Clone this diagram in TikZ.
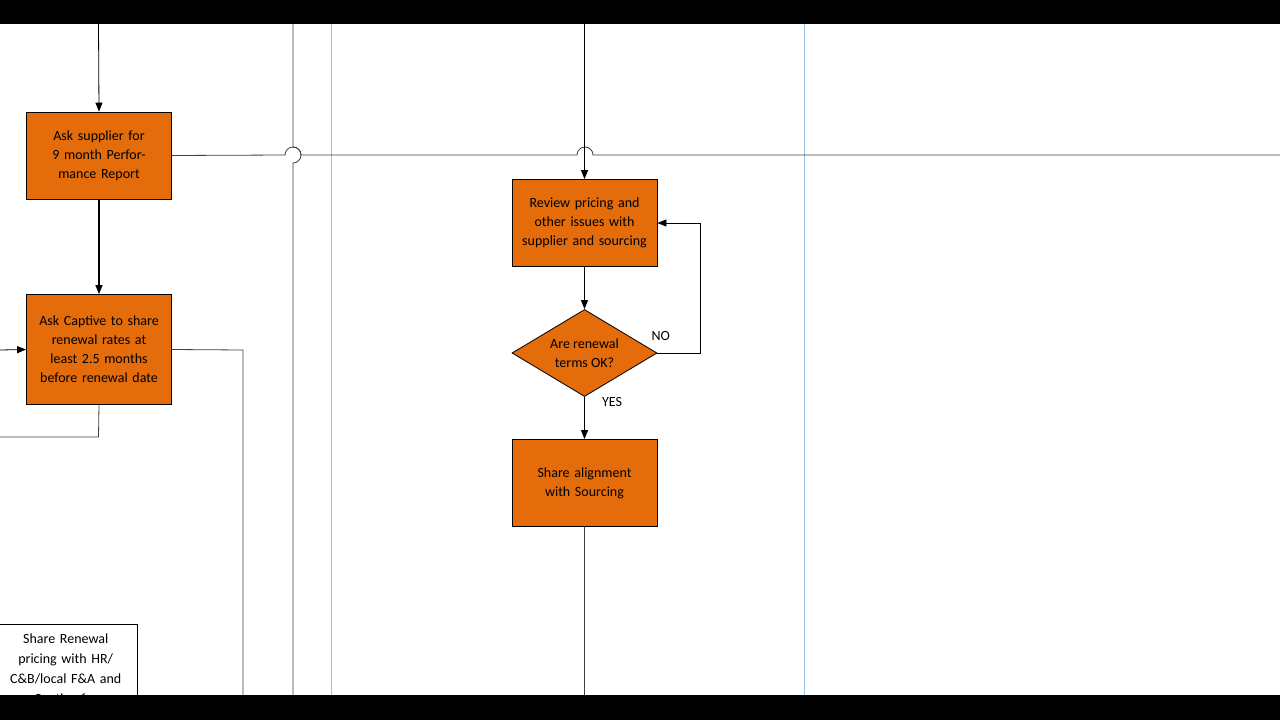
\documentclass[tikz,border=0pt]{standalone}
\usepackage{fontspec}
\setmainfont{Carlito}
\usetikzlibrary{shapes.geometric,arrows.meta}
\definecolor{orng}{HTML}{E46C0A}
\definecolor{lblue}{HTML}{9DC3E6}
\begin{document}
\begin{tikzpicture}[x=1pt,y=-1pt,
 box/.style={draw=black,thick,fill=orng,minimum width=145pt,minimum height=87pt,align=center,text width=135pt,font=\fontsize{14}{19}\selectfont,inner sep=2pt},
 dia/.style={diamond,draw=black,thick,fill=orng,minimum width=145pt,minimum height=87pt,aspect=1.67,align=center,font=\fontsize{14}{19}\selectfont,inner sep=0pt},
 arr/.style={-{Triangle[length=9pt,width=7pt]},black},
 ln/.style={draw=black!75,line width=0.8pt},
 lbl/.style={font=\fontsize{14}{16}\selectfont}]
\useasboundingbox (0,0) rectangle (1280,720);
\fill[white] (0,0) rectangle (1280,720);
% lanes
\draw[ln] (293,24) -- (293,147) arc[start angle=90,end angle=-90,radius=8pt] -- (293,695);
\draw[lblue,line width=1pt] (331,24) -- (331,695);
\draw[lblue,line width=1pt] (804,24) -- (804,695);
% nodes
\node[box] (b1) at (99,155.5) {Ask supplier for 9 month Performance Report};
\node[box,minimum height=110pt] (b2) at (99,349.5) {Ask Captive to share renewal rates at least 2.5 months before renewal date};
\node[box] (b3) at (584.5,223) {Review pricing and other issues with supplier and sourcing};
\node[dia] (d) at (584.5,353) {Are renewal\\terms OK?};
\node[box] (b4) at (584.5,483) {Share alignment with Sourcing};
\node[draw=black,thick,fill=white,minimum width=140pt,minimum height=90pt,anchor=north west,align=center,font=\fontsize{14}{20}\selectfont,text width=136pt] (w) at (-6,624) {Share Renewal\\pricing with HR/\\C\&B/local F\&A and\\Captive for\\};
% connectors
\coordinate (t1) at (98.5,24);
\draw[ln,arr] (t1) -- (b1.north);
\draw[line width=1.4pt,arr] (b1.south) -- (b2.north);
\coordinate (l2) at (0,350);
\draw[ln,arr] (l2) -- (b2.west);
\coordinate (l3) at (0,437);
\draw[ln] (b2.south) -- (98.5,437) -- (l3);
\coordinate (r2) at (243,695);
\draw[ln] (b2.east) -- (243,350) -- (r2);
\coordinate (e) at (1280,155);
\draw[ln] (b1.east) -- (285,155) arc[start angle=180,end angle=0,radius=8pt] -- (577,155) arc[start angle=180,end angle=0,radius=8pt] -- (e);
\coordinate (t3) at (584.5,24);
\draw[ln,arr] (t3) -- (b3.north);
\draw[ln,arr] (b3.south) -- (d.north);
\draw[ln,arr] (d.east) -- (700,353) -- (700,223) -- (b3.east);
\node[lbl,anchor=west] at (648,336) {NO};
\draw[ln,arr] (d.south) -- (b4.north);
\node[lbl] at (612,402) {YES};
\coordinate (bb) at (584.5,695);
\draw[ln] (b4.south) -- (bb);
% black bars
\fill[black] (0,0) rectangle (1280,24);
\fill[black] (0,695) rectangle (1280,720);
\end{tikzpicture}
\end{document}
